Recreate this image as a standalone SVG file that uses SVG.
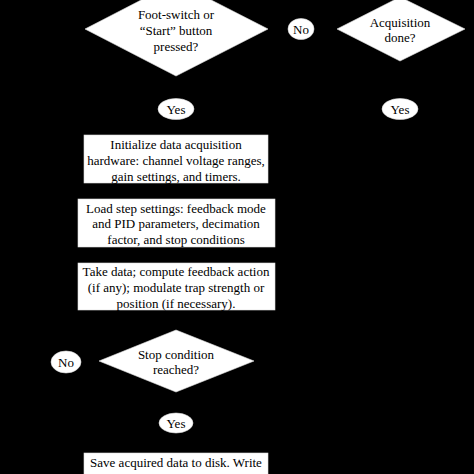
<svg xmlns="http://www.w3.org/2000/svg" width="474" height="474" viewBox="0 0 474 474">
<style>
.shape{fill:#fff;stroke:#ddd;stroke-width:0.6}
text{font-family:"Liberation Serif","Times New Roman",serif;font-size:13px;fill:#000;text-anchor:middle;dominant-baseline:central}
</style>
<rect width="474" height="474" fill="#000"/>
<g id="connectors"></g>
<g id="start-decision">
<polygon class="shape" points="176,-18 268,29 176,76 85,29"/>
<text x="176" y="14">Foot-switch or</text>
<text x="176" y="30">“Start” button</text>
<text x="176" y="46">pressed?</text>
</g>
<g id="no-label-1">
<ellipse class="shape" cx="301" cy="29" rx="13" ry="10.5"/>
<text x="301" y="29">No</text>
</g>
<g id="acq-done">
<polygon class="shape" points="400,-3 465,29 400,61 337,29"/>
<text x="400" y="22">Acquisition</text>
<text x="400" y="37">done?</text>
</g>
<g id="yes-label-1">
<ellipse class="shape" cx="176" cy="109" rx="18" ry="10.5"/>
<text x="176" y="109">Yes</text>
</g>
<g id="yes-label-2">
<ellipse class="shape" cx="400" cy="109" rx="18" ry="10.5"/>
<text x="400" y="109">Yes</text>
</g>
<g id="init-box">
<rect class="shape" x="84" y="135" width="184" height="48"/>
<text x="176" y="144">Initialize data acquisition</text>
<text x="176" y="160">hardware: channel voltage ranges,</text>
<text x="176" y="176">gain settings, and timers.</text>
</g>
<g id="load-box">
<rect class="shape" x="78" y="199" width="197" height="48"/>
<text x="176" y="208">Load step settings: feedback mode</text>
<text x="176" y="223.5">and PID parameters, decimation</text>
<text x="176" y="239">factor, and stop conditions</text>
</g>
<g id="take-box">
<rect class="shape" x="78" y="263" width="197" height="47"/>
<text x="176" y="271.5">Take data; compute feedback action</text>
<text x="176" y="287.5">(if any); modulate trap strength or</text>
<text x="176" y="303.5">position (if necessary).</text>
</g>
<g id="stop-decision">
<polygon class="shape" points="176,330 254,361 176,392 99,361"/>
<text x="176" y="354">Stop condition</text>
<text x="176" y="369.5">reached?</text>
</g>
<g id="no-label-2">
<ellipse class="shape" cx="66" cy="362" rx="15" ry="11"/>
<text x="66" y="362">No</text>
</g>
<g id="yes-label-3">
<ellipse class="shape" cx="176" cy="423" rx="17" ry="10"/>
<text x="176" y="423">Yes</text>
</g>
<g id="save-box">
<rect class="shape" x="84" y="453" width="184" height="30"/>
<text x="176" y="462">Save acquired data to disk. Write</text>
</g>
</svg>
